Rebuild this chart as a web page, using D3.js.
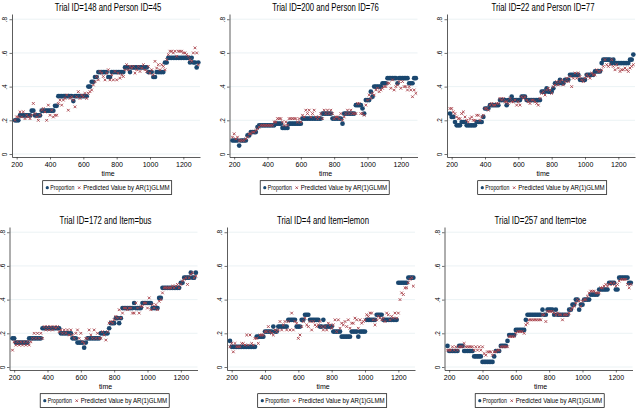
<!DOCTYPE html>
<html>
<head>
<meta charset="utf-8">
<script src="https://cdn.jsdelivr.net/npm/d3@7"></script>
<style>
  html, body { margin: 0; padding: 0; background: #fff; }
  svg { display: block; }
  text { font-family: "Liberation Sans Narrow", "Arial Narrow", "Liberation Sans", Arial, sans-serif; fill: #000; }
</style>
</head>
<body>
<svg id="chart" width="638" height="410"></svg>
<script>
// ---------------- data ----------------
const times = [
  190,200,210,220,230,240,250,260,270,280,
  290,300,310,320,330,340,350,360,370,380,
  390,400,410,420,430,440,450,460,470,480,
  490,500,510,520,530,540,550,560,570,580,
  590,600,610,620,630,640,650,660,670,680,
  690,700,710,720,730,740,750,760,770,780,
  790,800,810,820,830,840,850,860,870,880,
  890,900,910,920,930,940,950,960,970,980,
  990,1000,1010,1020,1030,1040,1050,1060,1070,1080,
  1090,1100,1110,1120,1130,1140,1150,1160,1170,1180,
  1190,1200,1210,1220,1230,1240,1250,1260,1270,1280,
  1290];

const titles = [
  "Trial ID=148 and Person ID=45",
  "Trial ID=200 and Person ID=76",
  "Trial ID=22 and Person ID=77",
  "Trial ID=172 and Item=bus",
  "Trial ID=4 and Item=lemon",
  "Trial ID=257 and Item=toe"
];

const xTicks = [200, 400, 600, 800, 1000, 1200];
const xTickLabels = ["200", "400", "600", "800", "1000", "1200"];
const yTicks = [0, 0.2, 0.4, 0.6, 0.8];
const yTickLabels = ["0", ".2", ".4", ".6", ".8"];
const xTitle = "time";
const legendLabels = ["Proportion", "Predicted Value by AR(1)GLMM"];

const prop1 = [
  .2,.2,.2,.229,.229,.229,.229,.229,.229,.229,
  .257,.257,.229,.229,.229,.229,.257,.257,.257,.257,
  .257,.257,.257,.257,.286,.286,.343,.343,.343,.343,
  .343,.343,.343,.343,.343,.314,.343,.343,.343,.343,
  .343,.343,.343,.343,.4,.4,.429,.429,.457,.457,
  .486,.486,.486,.486,.486,.486,.457,.457,.486,.486,
  .486,.486,.486,.486,.486,.486,.514,.514,.514,.486,
  .514,.514,.514,.514,.514,.514,.514,.514,.514,.514,
  .486,.486,.486,.457,.457,.486,.486,.486,.486,.486,
  .543,.543,.571,.571,.571,.571,.571,.571,.571,.571,
  .571,.571,.571,.571,.571,.543,.571,.543,.543,.514,
  .543];
const pred1 = [
  .2,.22,.22,.25,.22,.25,.21,.23,.22,.21,
  .23,.3,.24,.22,.2,.23,.26,.27,.25,.2,
  .29,.23,.26,.22,.23,.23,.3,.32,.29,.32,
  .33,.35,.26,.33,.34,.32,.28,.34,.37,.33,
  .35,.34,.36,.33,.36,.37,.38,.41,.43,.46,
  .44,.49,.48,.46,.44,.48,.5,.44,.47,.44,
  .49,.44,.48,.45,.47,.46,.5,.53,.5,.52,
  .51,.52,.48,.5,.52,.49,.51,.53,.5,.49,
  .52,.48,.5,.47,.55,.51,.53,.5,.53,.52,
  .5,.56,.59,.61,.61,.6,.61,.58,.61,.61,
  .61,.6,.6,.59,.58,.56,.55,.6,.63,.6,
  .53];

const prop2 = [
  .08,.08,.08,.08,.05,.08,.08,.08,.08,.11,
  .11,.13,.13,.13,.13,.16,.17,.17,.17,.17,
  .17,.17,.17,.17,.17,.17,.18,.18,.18,.18,
  .155,.155,.155,.155,.18,.18,.18,.18,.18,.18,
  .18,.18,.21,.21,.21,.21,.21,.21,.21,.21,
  .21,.21,.21,.21,.24,.24,.24,.24,.24,.24,
  .21,.21,.21,.21,.21,.21,.18,.24,.24,.24,
  .24,.24,.24,.24,.29,.29,.29,.29,.27,.24,
  .32,.32,.32,.37,.34,.4,.4,.4,.4,.4,
  .42,.42,.42,.45,.45,.45,.45,.45,.45,.42,
  .45,.45,.45,.45,.45,.45,.42,.42,.42,.45,
  .45];
const pred2 = [
  .1,.12,.09,.1,.08,.08,.08,.08,.09,.1,
  .12,.12,.13,.13,.14,.15,.16,.17,.17,.17,
  .17,.17,.17,.17,.17,.19,.19,.21,.21,.21,
  .19,.17,.19,.17,.21,.21,.21,.21,.21,.19,
  .21,.19,.23,.22,.26,.24,.26,.22,.24,.26,
  .22,.21,.22,.24,.21,.26,.24,.26,.24,.26,
  .24,.21,.22,.22,.21,.24,.2,.22,.24,.26,
  .24,.26,.24,.24,.24,.3,.3,.24,.24,.23,
  .29,.32,.35,.33,.36,.35,.38,.39,.37,.38,
  .39,.4,.4,.42,.42,.39,.44,.38,.4,.41,
  .43,.39,.43,.4,.4,.38,.4,.38,.34,.38,
  .36];

const prop3 = [
  .24,.22,.22,.19,.17,.17,.17,.19,.19,.19,
  .17,.17,.17,.17,.17,.17,.19,.19,.19,.19,
  .22,.27,.27,.27,.29,.29,.29,.29,.29,.29,
  .32,.32,.32,.32,.29,.32,.32,.34,.32,.32,
  .32,.32,.32,.34,.34,.34,.32,.32,.32,.32,
  .32,.32,.32,.32,.32,.37,.37,.37,.39,.37,
  .37,.37,.39,.42,.42,.42,.44,.42,.42,.44,
  .44,.44,.47,.47,.47,.47,.47,.47,.44,.44,
  .44,.44,.47,.47,.47,.47,.47,.49,.49,.49,
  .49,.54,.56,.56,.56,.56,.56,.54,.56,.54,
  .54,.54,.54,.54,.54,.54,.54,.54,.56,.56,
  .59];
const pred3 = [
  .27,.27,.25,.24,.22,.21,.21,.24,.25,.22,
  .2,.19,.21,.22,.2,.2,.23,.23,.2,.22,
  .23,.27,.27,.26,.29,.3,.29,.29,.3,.3,
  .33,.32,.33,.31,.31,.3,.33,.31,.31,.32,
  .29,.31,.29,.34,.33,.34,.32,.31,.3,.32,
  .32,.31,.3,.29,.33,.36,.37,.35,.38,.39,
  .38,.36,.4,.41,.43,.41,.43,.44,.41,.43,
  .45,.43,.46,.4,.45,.48,.45,.48,.46,.44,
  .43,.45,.47,.46,.45,.48,.47,.47,.5,.49,
  .49,.5,.52,.56,.53,.52,.53,.56,.52,.5,
  .53,.51,.49,.5,.5,.51,.5,.49,.51,.52,
  .53];

const prop4 = [
  .17,.17,.145,.145,.145,.145,.145,.145,.145,.145,
  .17,.17,.17,.17,.17,.17,.17,.17,.23,.23,
  .23,.23,.23,.23,.23,.23,.23,.23,.23,.2,
  .2,.2,.2,.2,.2,.2,.17,.17,.17,.145,
  .145,.145,.145,.115,.145,.17,.17,.17,.17,.17,
  .17,.17,.17,.2,.2,.2,.2,.2,.23,.26,
  .26,.26,.29,.29,.26,.29,.35,.35,.35,.35,
  .35,.35,.35,.38,.35,.35,.35,.35,.38,.38,
  .38,.38,.38,.38,.35,.35,.35,.35,.41,.41,
  .47,.47,.47,.47,.47,.47,.47,.47,.47,.47,
  .47,.5,.5,.53,.53,.53,.53,.56,.53,.53,
  .56];
const pred4 = [
  .1,.15,.13,.15,.13,.15,.13,.15,.13,.15,
  .13,.15,.17,.2,.17,.2,.17,.2,.17,.24,
  .22,.24,.22,.24,.22,.24,.23,.24,.21,.22,
  .2,.22,.2,.22,.19,.22,.19,.17,.2,.22,
  .17,.2,.15,.14,.17,.17,.22,.19,.17,.22,
  .17,.2,.17,.17,.21,.19,.16,.21,.26,.27,
  .26,.28,.3,.29,.34,.29,.32,.35,.35,.34,
  .35,.35,.32,.32,.38,.35,.32,.36,.36,.38,
  .38,.35,.41,.34,.37,.35,.37,.34,.39,.4,
  .44,.47,.47,.47,.47,.47,.48,.47,.48,.49,
  .47,.49,.51,.52,.53,.49,.53,.55,.56,.53,
  .54];

const prop5 = [
  .155,.12,.12,.12,.12,.12,.12,.12,.12,.12,
  .12,.12,.12,.12,.12,.12,.18,.18,.18,.18,
  .18,.21,.21,.21,.21,.21,.24,.21,.21,.24,
  .24,.24,.24,.24,.24,.28,.28,.28,.28,.28,
  .24,.24,.24,.28,.28,.31,.31,.31,.28,.28,
  .28,.28,.28,.28,.24,.24,.28,.24,.24,.24,
  .24,.24,.21,.21,.21,.21,.21,.18,.18,.18,
  .18,.18,.18,.21,.21,.21,.21,.18,.21,.21,
  .21,.21,.28,.28,.28,.28,.28,.28,.31,.31,
  .31,.31,.28,.28,.28,.28,.28,.28,.28,.28,
  .28,.5,.5,.5,.5,.5,.5,.53,.53,.53,
  .53];
const pred5 = [
  .12,.14,.09,.14,.12,.12,.12,.14,.14,.13,
  .19,.13,.19,.14,.13,.17,.17,.14,.19,.19,
  .19,.21,.21,.24,.21,.2,.19,.22,.21,.22,
  .27,.22,.25,.27,.22,.27,.22,.32,.22,.27,
  .26,.17,.19,.24,.27,.29,.25,.24,.27,.22,
  .27,.25,.24,.25,.27,.24,.22,.24,.22,.26,
  .25,.23,.25,.28,.21,.28,.23,.26,.25,.27,
  .24,.28,.23,.26,.26,.29,.28,.23,.28,.26,
  .27,.28,.31,.3,.32,.32,.28,.25,.28,.3,
  .29,.28,.29,.27,.32,.31,.28,.3,.29,.32,
  .29,.32,.4,.44,.43,.47,.47,.5,.52,.53,
  .48];

const prop6 = [
  .125,.095,.095,.095,.095,.095,.095,.125,.125,.125,
  .095,.095,.095,.095,.095,.095,.063,.063,.063,.063,
  .063,.03,.03,.03,.03,.03,.03,.03,.063,.095,
  .095,.095,.125,.125,.125,.125,.155,.19,.19,.19,
  .19,.22,.22,.22,.22,.22,.22,.28,.31,.31,
  .31,.31,.31,.31,.31,.31,.31,.34,.31,.31,
  .34,.34,.34,.34,.31,.34,.31,.31,.31,.31,
  .31,.31,.31,.34,.34,.37,.37,.4,.4,.34,
  .37,.37,.4,.4,.4,.4,.43,.43,.43,.43,
  .43,.46,.46,.46,.46,.46,.46,.5,.5,.5,
  .5,.46,.46,.53,.53,.53,.53,.53,.53,.5,
  .5];
const pred6 = [
  .1,.1,.1,.12,.1,.12,.1,.12,.12,.12,
  .14,.12,.12,.12,.12,.12,.1,.12,.1,.12,
  .1,.12,.08,.07,.09,.09,.09,.07,.09,.09,
  .1,.1,.12,.12,.12,.12,.12,.18,.18,.18,
  .18,.2,.21,.21,.21,.21,.2,.25,.26,.28,
  .28,.28,.28,.28,.28,.28,.28,.31,.31,.27,
  .33,.33,.33,.33,.32,.31,.32,.31,.31,.28,
  .31,.31,.31,.32,.34,.35,.36,.38,.4,.39,
  .36,.39,.4,.4,.42,.44,.45,.45,.45,.44,
  .44,.44,.47,.47,.48,.49,.48,.49,.5,.49,
  .5,.48,.49,.51,.52,.52,.52,.52,.49,.47,
  .49];

const proportions = [prop1, prop2, prop3, prop4, prop5, prop6];
const predictions = [pred1, pred2, pred3, pred4, pred5, pred6];

// ---------------- drawing ----------------
const svg = d3.select("#chart");
svg.append("rect").attr("width", 638).attr("height", 410).attr("fill", "#fff");

const BLUE = "#1a476f";
const RED = "#a8414a";
const GRID = "#e6eff1";

const colX = [0, 217.5, 435];
const rowY = [0, 213];
const rowShift = [0, -2.5];

const x = d3.scaleLinear().domain([172, 1300]).range([12, 200]);
const y = d3.scaleLinear().domain([-0.0178, 0.831]).range([157, 14]);

function xMark(sel, s) {
  sel.attr("d", `M${-s},${-s}L${s},${s}M${-s},${s}L${s},${-s}`);
}

titles.forEach((title, k) => {
  const col = k % 3, row = Math.floor(k / 3);
  const g = svg.append("g")
    .attr("transform", `translate(${colX[col] + rowShift[row]},${rowY[row]})`);

  // grid
  g.append("g").selectAll("line").data(yTicks).join("line")
    .attr("x1", x.range()[0]).attr("x2", x.range()[1])
    .attr("y1", d => y(d)).attr("y2", d => y(d))
    .attr("stroke", GRID).attr("stroke-width", 0.8);

  // title
  g.append("text")
    .attr("x", (x.range()[0] + x.range()[1]) / 2 + 2)
    .attr("y", 11)
    .attr("text-anchor", "middle")
    .attr("font-size", 10.5)
    .attr("fill", "#111")
    .attr("textLength", title.length * 3.68)
    .attr("lengthAdjust", "spacingAndGlyphs")
    .text(title);

  // y axis
  const ya = g.append("g").attr("transform", `translate(${x.range()[0]},0)`)
    .call(d3.axisLeft(y).tickValues(yTicks)
      .tickFormat((d, i) => yTickLabels[i]).tickSize(2.5).tickSizeOuter(0).tickPadding(2.5));
  ya.attr("font-family", null);
  ya.select(".domain").attr("stroke", "#333").attr("stroke-width", 0.8);
  ya.selectAll(".tick line").attr("stroke", "#333").attr("stroke-width", 0.7);
  ya.selectAll(".tick text")
    .attr("transform", "rotate(-90)")
    .attr("x", 0).attr("y", -5).attr("dy", null)
    .attr("text-anchor", "middle")
    .attr("font-size", 6.5)
    .attr("fill", "#000");

  // x axis
  const xa = g.append("g").attr("transform", `translate(0,${y.range()[0]})`)
    .call(d3.axisBottom(x).tickValues(xTicks)
      .tickFormat((d, i) => xTickLabels[i]).tickSize(2.5).tickSizeOuter(0).tickPadding(2.5));
  xa.attr("font-family", null);
  xa.select(".domain").attr("stroke", "#333").attr("stroke-width", 0.8);
  xa.selectAll(".tick line").attr("stroke", "#333").attr("stroke-width", 0.7);
  xa.selectAll(".tick text")
    .attr("font-size", 7)
    .attr("fill", "#000");

  g.append("text")
    .attr("x", 108).attr("y", 176)
    .attr("text-anchor", "middle")
    .attr("font-size", 7)
    .text(xTitle);

  // data
  const prop = proportions[k], pred = predictions[k];
  g.append("g").selectAll("circle").data(times).join("circle")
    .attr("cx", (t) => x(t))
    .attr("cy", (t, i) => y(prop[i]))
    .attr("r", 2.35)
    .attr("fill", BLUE);

  g.append("g").selectAll("path").data(times).join("path")
    .attr("transform", (t, i) => `translate(${x(t)},${y(pred[i])})`)
    .call(xMark, 1.35)
    .attr("fill", "none")
    .attr("stroke", RED)
    .attr("stroke-width", 0.9);

  // legend
  const lg = g.append("g").attr("transform", "translate(42.7,180.7)");
  lg.append("rect").attr("width", 129).attr("height", 13.8)
    .attr("fill", "#fff").attr("stroke", "#000").attr("stroke-width", 0.7);
  lg.append("circle").attr("cx", 4.6).attr("cy", 7).attr("r", 1.6).attr("fill", BLUE);
  lg.append("text").attr("x", 7.6).attr("y", 9.3).attr("font-size", 6.5)
    .attr("textLength", 24).attr("lengthAdjust", "spacingAndGlyphs")
    .text(legendLabels[0]);
  lg.append("path").attr("transform", "translate(36.5,7)").call(xMark, 1.2)
    .attr("stroke", RED).attr("stroke-width", 0.9);
  lg.append("text").attr("x", 40.5).attr("y", 9.3).attr("font-size", 6.5)
    .attr("textLength", 86.5).attr("lengthAdjust", "spacingAndGlyphs")
    .text(legendLabels[1]);
});
</script>
</body>
</html>
